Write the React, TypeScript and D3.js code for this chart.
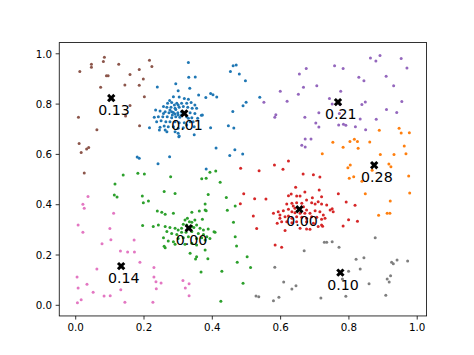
import React from 'react';
import * as d3 from 'd3';

const W = 474;
const H = 355;
const frame = { left: 59.25, right: 426.6, top: 42.6, bottom: 315.95 };
const xDomain: [number, number] = [-0.0482, 1.0275];
const yDomain: [number, number] = [-0.0423, 1.0445];
const xTicks = [0, 0.2, 0.4, 0.6, 0.8, 1.0];
const yTicks = [0, 0.2, 0.4, 0.6, 0.8, 1.0];
const tickLabels = ['0.0', '0.2', '0.4', '0.6', '0.8', '1.0'];

const clusterColors = ['#1f77b4', '#ff7f0e', '#2ca02c', '#d62728', '#9467bd', '#8c564b', '#e377c2', '#7f7f7f'];

const bluePts: [number, number][] = [
  [0.275,0.814],[0.286,0.829],[0.303,0.828],[0.318,0.822],[0.330,0.819],[0.269,0.803],[0.281,0.806],[0.296,0.803],[0.310,0.803],[0.325,0.803],[0.338,0.806],[0.349,0.796],[0.257,0.790],[0.267,0.787],[0.279,0.787],[0.291,0.783],[0.303,0.787],[0.315,0.790],[0.328,0.787],[0.341,0.783],[0.354,0.783],[0.234,0.777],[0.247,0.773],[0.262,0.770],[0.273,0.766],[0.286,0.767],[0.299,0.766],[0.310,0.769],[0.335,0.766],[0.349,0.763],[0.371,0.757],[0.230,0.748],[0.242,0.750],[0.255,0.750],[0.268,0.750],[0.281,0.746],[0.293,0.750],[0.305,0.748],[0.325,0.750],[0.340,0.746],[0.357,0.744],[0.237,0.730],[0.250,0.734],[0.264,0.730],[0.276,0.730],[0.291,0.730],[0.303,0.726],[0.318,0.726],[0.335,0.730],[0.247,0.708],[0.259,0.713],[0.271,0.710],[0.286,0.710],[0.300,0.704],[0.315,0.706],[0.347,0.710],[0.245,0.697],[0.267,0.690],[0.291,0.690],[0.303,0.673],[0.300,0.684],[0.281,0.770],[0.293,0.779],[0.300,0.757],[0.310,0.757],[0.291,0.761],[0.283,0.757],[0.276,0.777],[0.300,0.796],[0.289,0.796],[0.257,0.763],[0.330,0.744],[0.344,0.730],[0.262,0.697],[0.325,0.717],
  [0.330,0.965],[0.331,0.907],[0.350,0.908],[0.293,0.881],[0.334,0.863],[0.239,0.868],[0.300,0.853],[0.360,0.836],[0.381,0.826],[0.395,0.842],[0.402,0.837],[0.413,0.828],[0.461,0.952],[0.470,0.955],[0.453,0.930],[0.479,0.920],[0.497,0.893],[0.499,0.807],[0.490,0.793],[0.460,0.771],[0.368,0.756],[0.216,0.706],[0.395,0.706],[0.447,0.714],[0.463,0.705],[0.347,0.678],[0.302,0.670],[0.180,0.590],[0.186,0.585],[0.241,0.563],[0.275,0.591],[0.411,0.625],[0.382,0.542],[0.451,0.596],[0.466,0.618],[0.489,0.602],[0.539,0.827],
];

const orangePts: [number, number][] = [
  [0.947,0.704],[0.953,0.685],[0.977,0.686],[0.889,0.696],[0.753,0.648],[0.783,0.628],[0.803,0.651],[0.816,0.660],[0.825,0.651],[0.827,0.624],[0.861,0.649],[0.962,0.633],[0.967,0.603],[0.722,0.603],[0.892,0.600],[0.932,0.600],[0.917,0.562],[0.923,0.551],[0.804,0.558],[0.797,0.547],[0.868,0.537],[0.801,0.505],[0.814,0.511],[0.838,0.493],[0.975,0.514],[0.848,0.444],[0.921,0.415],[0.887,0.358],[0.912,0.366],[0.920,0.366],[0.978,0.447],
];

const greenPts: [number, number][] = [
  [0.239,0.375],[0.252,0.370],[0.262,0.362],[0.286,0.366],[0.340,0.370],[0.362,0.375],[0.379,0.379],[0.320,0.339],[0.327,0.346],[0.333,0.332],[0.340,0.330],[0.349,0.339],[0.315,0.322],[0.325,0.319],[0.340,0.313],[0.354,0.319],[0.227,0.313],[0.242,0.319],[0.262,0.313],[0.276,0.309],[0.291,0.306],[0.300,0.299],[0.310,0.306],[0.346,0.309],[0.364,0.306],[0.374,0.299],[0.388,0.303],[0.408,0.290],[0.267,0.293],[0.281,0.286],[0.296,0.282],[0.310,0.290],[0.323,0.290],[0.340,0.293],[0.359,0.286],[0.374,0.282],[0.384,0.273],[0.393,0.266],[0.257,0.269],[0.300,0.266],[0.315,0.269],[0.330,0.273],[0.354,0.266],[0.369,0.269],[0.379,0.260],[0.271,0.256],[0.286,0.253],[0.291,0.243],[0.320,0.243],[0.340,0.247],[0.354,0.240],[0.262,0.229],[0.335,0.207],[0.379,0.220],[0.354,0.193],
  [0.139,0.518],[0.182,0.525],[0.201,0.522],[0.278,0.511],[0.393,0.529],[0.410,0.534],[0.369,0.503],[0.382,0.505],[0.423,0.489],[0.115,0.482],[0.113,0.439],[0.121,0.431],[0.259,0.452],[0.291,0.445],[0.195,0.435],[0.198,0.408],[0.213,0.415],[0.388,0.441],[0.441,0.429],[0.379,0.403],[0.382,0.376],[0.444,0.378],[0.467,0.395],[0.371,0.342],[0.462,0.330],[0.196,0.317],[0.259,0.235],[0.405,0.292],[0.467,0.273],[0.471,0.236],[0.502,0.193],[0.351,0.184],[0.387,0.185],[0.473,0.171],[0.512,0.150],[0.367,0.132],[0.428,0.135],[0.490,0.088],[0.425,0.016],
];

const redPts: [number, number][] = [
  [0.631,0.443],[0.623,0.436],[0.647,0.435],[0.657,0.435],[0.693,0.428],[0.720,0.432],[0.713,0.458],[0.676,0.419],[0.691,0.408],[0.701,0.403],[0.710,0.412],[0.720,0.403],[0.735,0.399],[0.745,0.379],[0.754,0.372],[0.618,0.403],[0.633,0.406],[0.647,0.408],[0.662,0.406],[0.637,0.395],[0.667,0.392],[0.579,0.366],[0.593,0.372],[0.598,0.359],[0.608,0.376],[0.623,0.382],[0.633,0.372],[0.642,0.368],[0.676,0.379],[0.686,0.366],[0.701,0.376],[0.715,0.372],[0.725,0.359],[0.730,0.346],[0.598,0.346],[0.613,0.352],[0.623,0.355],[0.633,0.346],[0.647,0.352],[0.662,0.350],[0.676,0.346],[0.691,0.352],[0.706,0.350],[0.720,0.342],[0.603,0.332],[0.618,0.332],[0.633,0.328],[0.676,0.332],[0.696,0.326],[0.710,0.313],[0.720,0.319],[0.613,0.297],[0.686,0.302],[0.657,0.306],[0.644,0.469],[0.671,0.451],[0.642,0.386],[0.671,0.366],[0.657,0.366],[0.647,0.332],
  [0.623,0.574],[0.582,0.558],[0.607,0.541],[0.483,0.545],[0.537,0.535],[0.666,0.522],[0.696,0.519],[0.715,0.510],[0.492,0.444],[0.524,0.424],[0.557,0.423],[0.482,0.404],[0.769,0.444],[0.792,0.411],[0.751,0.384],[0.520,0.355],[0.818,0.398],[0.590,0.326],[0.799,0.340],[0.783,0.315],[0.825,0.334],[0.530,0.305],[0.723,0.314],[0.676,0.303],[0.584,0.240],[0.603,0.231],
];

const purplePts: [number, number][] = [
  [0.863,0.983],[0.879,0.971],[0.891,0.993],[0.953,0.981],[0.970,0.944],[0.675,0.942],[0.758,0.952],[0.783,0.942],[0.655,0.920],[0.829,0.907],[0.844,0.893],[0.909,0.911],[0.599,0.851],[0.652,0.839],[0.667,0.867],[0.706,0.873],[0.776,0.851],[0.931,0.873],[0.619,0.811],[0.743,0.822],[0.751,0.800],[0.848,0.808],[0.838,0.798],[0.955,0.810],[0.583,0.748],[0.586,0.758],[0.671,0.748],[0.712,0.766],[0.772,0.763],[0.833,0.741],[0.880,0.740],[0.910,0.779],[0.940,0.767],[0.703,0.725],[0.712,0.709],[0.770,0.717],[0.784,0.720],[0.791,0.716],[0.819,0.710],[0.849,0.698],[0.672,0.661],[0.689,0.661],[0.662,0.636],[0.672,0.629],[0.551,0.807],[0.774,0.798],
];

const brownPts: [number, number][] = [
  [0.084,0.986],[0.081,0.969],[0.046,0.958],[0.046,0.946],[0.126,0.958],[0.216,0.974],[0.223,0.949],[0.012,0.930],[0.186,0.938],[0.159,0.918],[0.090,0.913],[0.095,0.913],[0.198,0.900],[0.144,0.876],[0.186,0.875],[0.073,0.867],[0.201,0.829],[0.159,0.794],[0.146,0.753],[0.008,0.748],[0.062,0.698],[0.187,0.714],[0.010,0.643],[0.016,0.608],[0.032,0.621],[0.038,0.627],[0.025,0.526],
];

const pinkPts: [number, number][] = [
  [0.036,0.433],[0.021,0.402],[0.025,0.386],[0.111,0.366],[0.007,0.319],[0.021,0.290],[0.100,0.305],[0.103,0.261],[0.077,0.245],[0.171,0.260],[0.131,0.216],[0.152,0.212],[0.172,0.212],[0.188,0.171],[0.062,0.144],[0.229,0.150],[0.004,0.113],[0.229,0.113],[0.235,0.094],[0.250,0.089],[0.314,0.099],[0.332,0.086],[0.321,0.069],[0.007,0.069],[0.033,0.084],[0.236,0.066],[0.132,0.062],[0.051,0.052],[0.083,0.037],[0.101,0.038],[0.332,0.038],[0.016,0.022],[0.005,0.010],[0.144,0.012],[0.226,0.012],
];

const grayPts: [number, number][] = [
  [0.728,0.251],[0.735,0.251],[0.751,0.253],[0.877,0.269],[0.669,0.217],[0.771,0.231],[0.583,0.151],[0.821,0.183],[0.844,0.189],[0.833,0.144],[0.799,0.135],[0.925,0.171],[0.930,0.165],[0.941,0.180],[0.972,0.176],[0.609,0.093],[0.645,0.078],[0.633,0.065],[0.859,0.086],[0.922,0.118],[0.912,0.105],[0.918,0.093],[0.528,0.037],[0.536,0.034],[0.595,0.032],[0.579,0.018],[0.718,0.029],[0.791,0.036],[0.908,0.040],[0.781,0.105],
];

const centerX = [0.318, 0.874, 0.331, 0.655, 0.768, 0.104, 0.133, 0.775];
const centerY = [0.763, 0.557, 0.307, 0.382, 0.808, 0.824, 0.156, 0.130];
const centerLabels = ['0.01', '0.28', '0.00', '0.00', '0.21', '0.13', '0.14', '0.10'];

const clusterPoints = [bluePts, orangePts, greenPts, redPts, purplePts, brownPts, pinkPts, grayPts];

export default function App() {
  const x = d3.scaleLinear().domain(xDomain).range([frame.left, frame.right]);
  const y = d3.scaleLinear().domain(yDomain).range([frame.bottom, frame.top]);
  const xMark = d3.symbol(d3.symbolCross, 44)() as string;
  const font = '"DejaVu Sans", sans-serif';

  return (
    <svg width={W} height={H} style={{ position: 'absolute', left: 0, top: 0, display: 'block' }} fontFamily={font}>
      <rect x={0} y={0} width={W} height={H} fill="#ffffff" />
      {clusterPoints.map((pts, ci) => (
        <g key={ci} fill={clusterColors[ci]}>
          {pts.map((p, i) => (
            <circle key={i} cx={x(p[0])} cy={y(p[1])} r={1.5} />
          ))}
        </g>
      ))}
      {centerX.map((cx, i) => (
        <g key={'c' + i}>
          <path d={xMark} transform={`translate(${x(cx)},${y(centerY[i])}) rotate(45)`} fill="#000" />
          <text x={x(cx) + 2.7} y={y(centerY[i]) + 17} textAnchor="middle" fontSize={14.2} fill="#000">
            {centerLabels[i]}
          </text>
        </g>
      ))}
      <rect x={frame.left} y={frame.top} width={frame.right - frame.left} height={frame.bottom - frame.top} fill="none" stroke="#000" strokeWidth={0.8} />
      {xTicks.map((t, i) => (
        <g key={'x' + i} transform={`translate(${x(t)},${frame.bottom})`}>
          <line y1={0} y2={3.6} stroke="#000" strokeWidth={0.8} />
          <text y={15.2} textAnchor="middle" fontSize={10.3} fill="#000">{tickLabels[i]}</text>
        </g>
      ))}
      {yTicks.map((t, i) => (
        <g key={'y' + i} transform={`translate(${frame.left},${y(t)})`}>
          <line x1={0} x2={-3.6} stroke="#000" strokeWidth={0.8} />
          <text x={-7.2} dy="0.36em" textAnchor="end" fontSize={10.3} fill="#000">{tickLabels[i]}</text>
        </g>
      ))}
    </svg>
  );
}
